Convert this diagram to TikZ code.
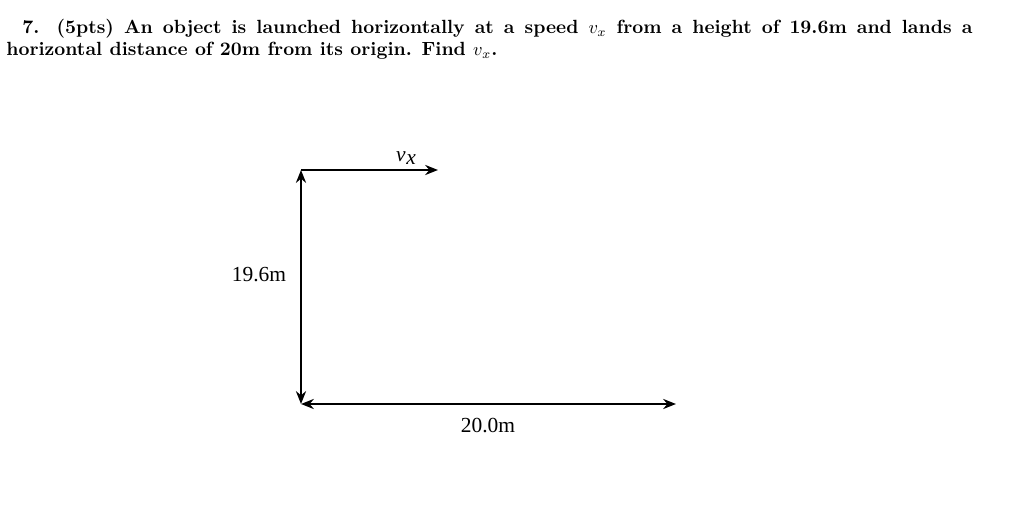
\documentclass[tikz,border=0pt]{standalone}
\usepackage{fontspec}
\newfontfamily\timesfont{Liberation Serif}[ItalicFont={Liberation Serif Italic}]
\usetikzlibrary{arrows.meta}

\tikzset{
  dim/.style={line width=1.2pt},
  lbl/.style={font=\timesfont\fontsize{11.7}{14}\selectfont, inner sep=0pt}
}

\begin{document}
\begin{tikzpicture}[x=0.545pt, y=-0.545pt, >={Stealth[length=7pt,width=5.5pt]}]
        \useasboundingbox (0,0) rectangle (1024,510);
        % problem text
        \node [anchor=north west, text width=526.5pt, inner sep=0pt, align=justify,
               font=\fontsize{10.4}{12}\selectfont] (question) at (6,19)
          {\bfseries\hspace*{8.7pt}7.\hspace{0.9em}(5pts) An object is launched horizontally at a speed $v_x$ from a height of 19.6m and lands a\linebreak
           horizontal distance of 20m from its origin. Find $v_x$.};
        % sketch
        \coordinate (ground) at (301,404);
        \coordinate (top) at (301,170);
        \coordinate (vend) at (438,170);
        \coordinate (land) at (676,404);
        \draw[dim, <->] (ground) -- (top);
        \draw[dim, ->] (top) -- (vend);
        \draw[dim, <->] (ground) -- (land);
        \node [lbl] (vx) at (406,158) {\textit{v\kern0.3pt\raisebox{-0.3ex}{x}}};
        \node [lbl] (height) at (259,275) {19.6m};
        \node [lbl] (dist) at (488,426) {20.0m};
      \end{tikzpicture}
\end{document}
